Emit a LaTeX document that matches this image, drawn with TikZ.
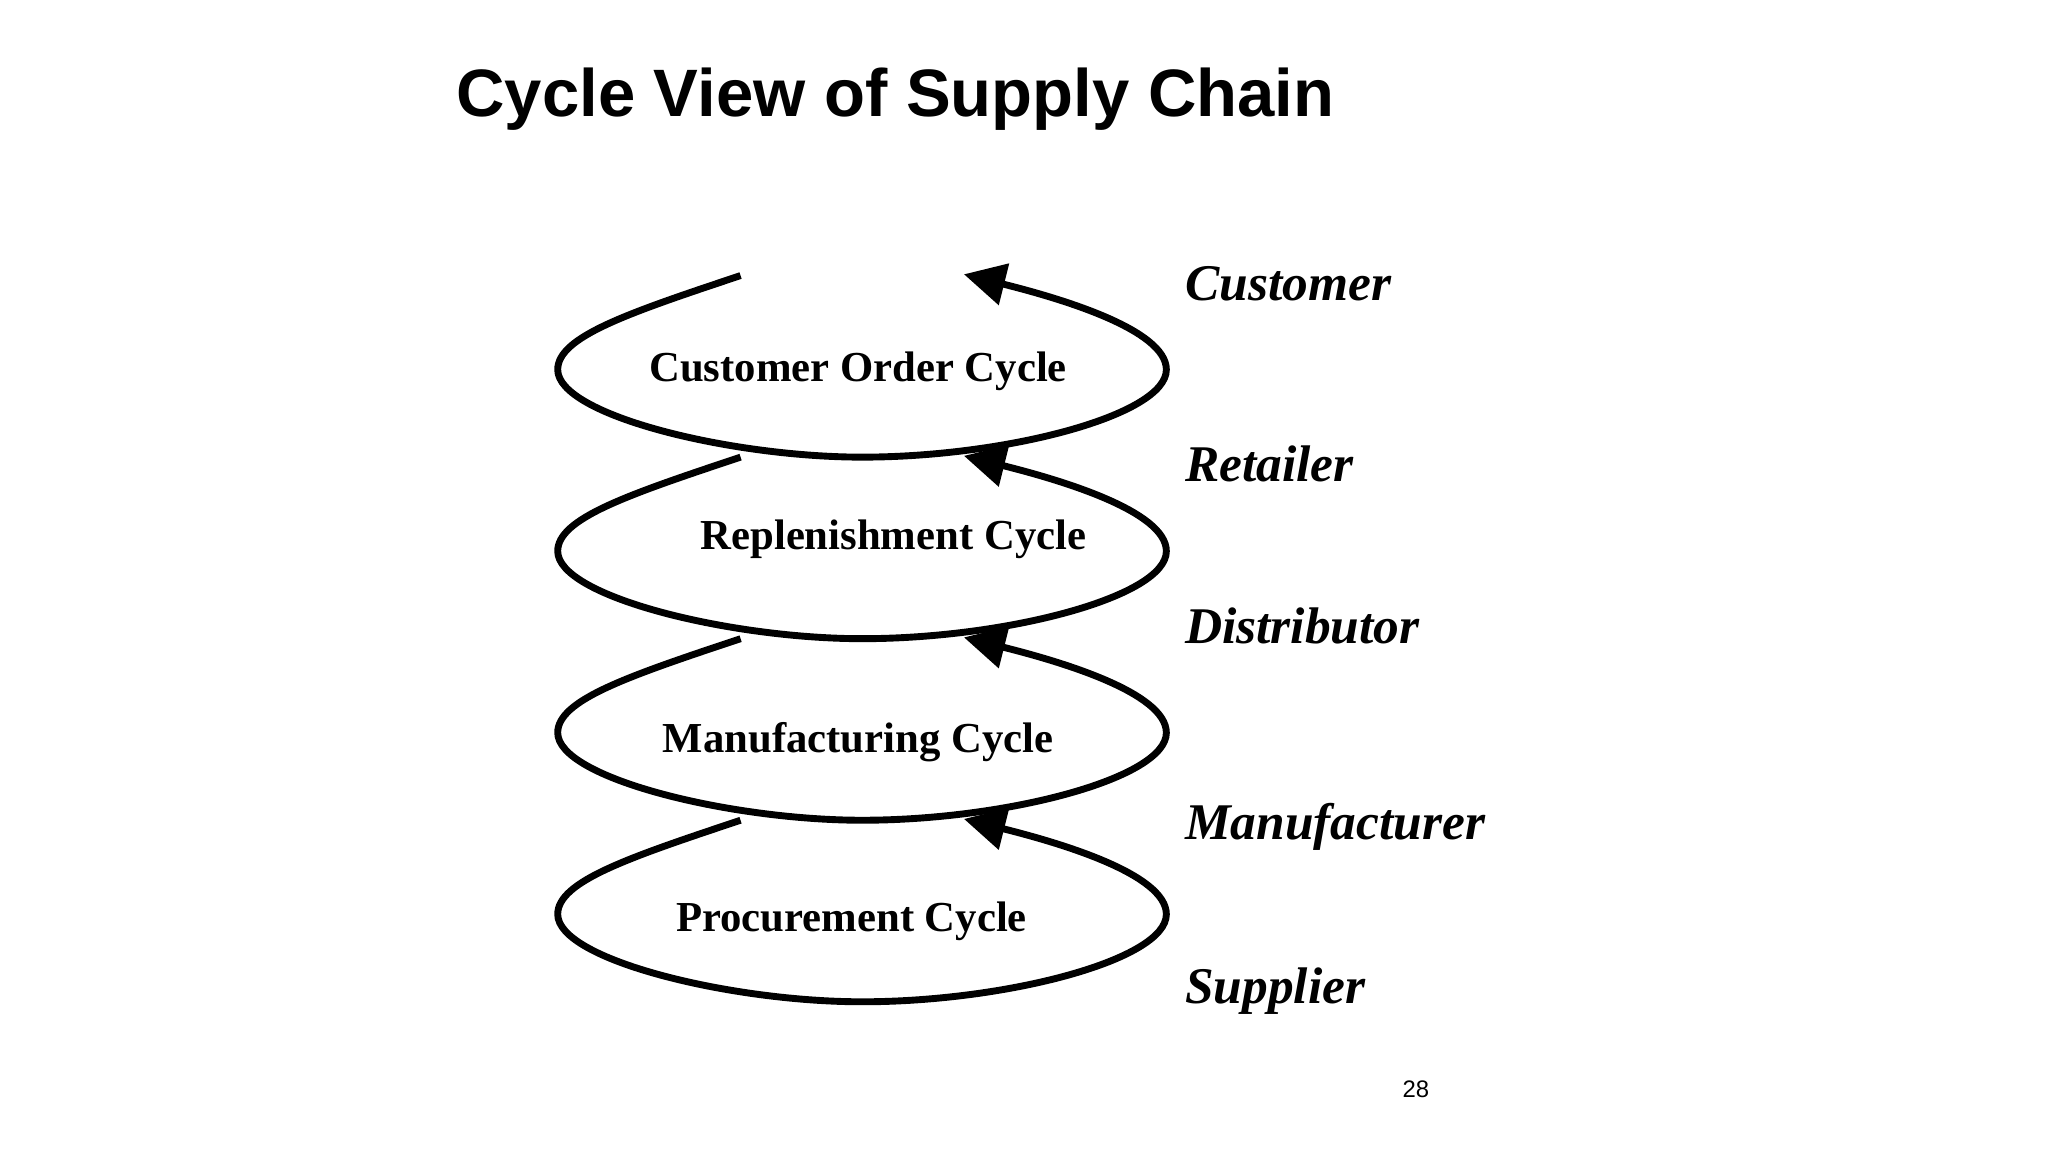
\documentclass[tikz,border=0pt]{standalone}
\usepackage{fontspec}
\setmainfont{Liberation Serif}
\newfontfamily\arialf{Liberation Sans}
\usetikzlibrary{arrows.meta}
\begin{document}
\begin{tikzpicture}[x=0.01cm,y=-0.01cm,
  loop/.style={line width=1.5pt,-{Triangle[length=9pt,width=9pt]}},
  cyc/.style={font=\fontsize{9.3}{11}\selectfont\bfseries},
  role/.style={anchor=west,font=\fontsize{11.2}{13}\selectfont\bfseries\itshape}]
\useasboundingbox (0,0) rectangle (1568,882);
\node[anchor=west,font=\arialf\fontsize{14.6}{18}\selectfont\bfseries] (title) at (337,76) {Cycle View of Supply Chain};
\foreach \i/\dy in {1/0,2/139,3/278,4/417}{
  \draw[loop] (567,211+\dy) .. controls (480,240+\dy) and (427,258+\dy) .. (427,283+\dy)
    .. controls (427,318+\dy) and (560,350+\dy) .. (660,350+\dy)
    .. controls (770,350+\dy) and (893,318+\dy) .. (893,283+\dy)
    .. controls (893,252+\dy) and (810,228+\dy) .. (738,210+\dy);
}
\node[cyc] (c1) at (657,284) {Customer Order Cycle};
\node[cyc] (c2) at (684,413) {Replenishment Cycle};
\node[cyc] (c3) at (657,568) {Manufacturing Cycle};
\node[cyc] (c4) at (652,705) {Procurement Cycle};
\node[role] (r1) at (895,217) {Customer};
\node[role] (r2) at (895,355) {Retailer};
\node[role] (r3) at (895,479) {Distributor};
\node[role] (r4) at (895,633) {Manufacturer};
\node[role] (r5) at (895,759) {Supplier};
\node[font=\arialf\fontsize{5.2}{6}\selectfont] (pg) at (1084,834) {28};
\end{tikzpicture}
\end{document}
